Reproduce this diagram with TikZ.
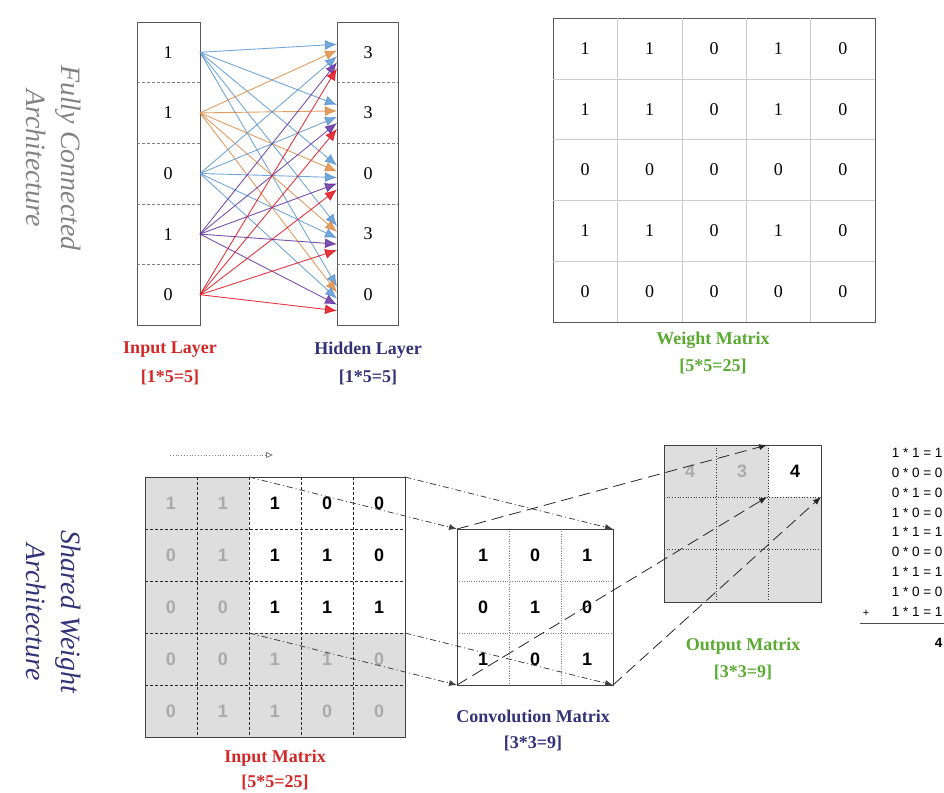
\documentclass[tikz,border=0pt]{standalone}
\usepackage{fontspec}
\setmainfont{Liberation Serif}
\setsansfont{Liberation Sans}
\usetikzlibrary{arrows.meta}
\definecolor{cblue}{RGB}{90,150,210}
\definecolor{corange}{RGB}{220,140,70}
\definecolor{cpurple}{RGB}{100,50,160}
\definecolor{cred}{RGB}{225,20,30}
\definecolor{lred}{RGB}{210,40,40}
\definecolor{lnavy}{RGB}{50,50,120}
\definecolor{lgreen}{RGB}{90,170,50}
\definecolor{lgray}{RGB}{130,130,130}
\definecolor{shadegray}{RGB}{222,222,222}
\definecolor{ltxt}{RGB}{170,170,170}
\tikzset{
 lbl/.style={font=\fontsize{18}{20}\selectfont\bfseries},
 side/.style={font=\fontsize{28}{30}\selectfont\itshape, rotate=-90},
 tnum/.style={font=\fontsize{18}{20}\selectfont},
 bnum/.style={font=\fontsize{18}{20}\selectfont\sffamily\bfseries},
 gnum/.style={font=\fontsize{18}{20}\selectfont\sffamily\bfseries, text=ltxt},
 calc/.style={font=\fontsize{13.5}{14}\selectfont\sffamily, anchor=east},
 dd/.style={dash pattern=on 6pt off 3pt on 1pt off 3pt, gray!50!black, line width=0.8pt, -{Latex[length=8pt,width=6pt]}},
 ld/.style={dash pattern=on 12pt off 6pt, gray!30!black, line width=0.8pt, -{Latex[length=8pt,width=6pt]}},
}
\begin{document}
\begin{tikzpicture}[x=1pt,y=-1pt]
\useasboundingbox (0,0) rectangle (944,792);
% side labels
\node[side,text=lgray] (s1) at (68,158) {Fully Connected};
\node[side,text=lgray] (s2) at (36,158) {Architecture};
\node[side,text=lnavy] (s3) at (68,612) {Shared Weight};
\node[side,text=lnavy] (s4) at (36,612) {Architecture};
% input/hidden columns
\draw[gray!70!black,line width=0.8pt] (137,22) rectangle (200,325);
\draw[gray!70!black,line width=0.8pt] (337,22) rectangle (398,325);
\foreach \k in {1,...,4}{
  \draw[densely dashed,gray] (137,{22+60.6*\k}) -- (200,{22+60.6*\k});
  \draw[densely dashed,gray] (337,{22+60.6*\k}) -- (398,{22+60.6*\k});
}
\foreach \v [count=\k from 0] in {1,1,0,1,0}{
  \node[tnum] (in\k) at (168,{52.3+60.6*\k}) {\v};
}
\foreach \v [count=\k from 0] in {3,3,0,3,0}{
  \node[tnum] (hd\k) at (368,{52.3+60.6*\k}) {\v};
}
\foreach \i/\c in {0/cblue,1/corange,2/cblue,3/cpurple,4/cred}{
  \coordinate (src\i) at (200,{52.3+60.6*\i});
  \foreach \j in {0,...,4}{
    \coordinate (dst\i\j) at (337,{52.3+60.6*\j-8+\i*6});
    \draw[\c,opacity=0.85,line width=0.9pt,-{Latex[length=12pt,width=10pt]}] (src\i) -- (dst\i\j);
  }
}
\node[lbl,text=lred] (l1) at (170,350) {Input Layer};
\node[lbl,text=lred] (l1b) at (170,377) {[1*5=5]};
\node[lbl,text=lnavy] (l2) at (368,350) {Hidden Layer};
\node[lbl,text=lnavy] (l2b) at (368,377) {[1*5=5]};
% weight matrix
\draw[gray!70!black,line width=0.8pt] (553,18) rectangle (875,322);
\foreach \k in {1,...,4}{
  \draw[gray!40] ({553+64.4*\k},18) -- ({553+64.4*\k},322);
  \draw[gray!40] (553,{18+60.8*\k}) -- (875,{18+60.8*\k});
}
\foreach \r [count=\y from 0] in {{1,1,0,1,0},{1,1,0,1,0},{0,0,0,0,0},{1,1,0,1,0},{0,0,0,0,0}}{
  \foreach \v [count=\x from 0] in \r {
    \node[tnum] (w\x\y) at ({585.2+64.4*\x},{48.4+60.8*\y}) {\v};
  }
}
\node[lbl,text=lgreen] (l3) at (713,340) {Weight Matrix};
\node[lbl,text=lgreen] (l3b) at (713,366) {[5*5=25]};
% bottom: dotted arrow
\coordinate (da) at (170,455); \coordinate (db) at (273,455);
\draw[gray,dotted,line width=0.8pt,-{Triangle[open,length=7pt,width=6pt]}] (da) -- (db);
% input matrix
\fill[shadegray] (145,477) rectangle (405,737);
\fill[white] (249,477) rectangle (405,633);
\foreach \k in {1,...,4}{
  \draw[densely dashed,gray!30!black] ({145+52*\k},477) -- ({145+52*\k},737);
  \draw[densely dashed,gray!30!black] (145,{477+52*\k}) -- (405,{477+52*\k});
}
\draw[gray!50!black,line width=0.8pt] (145,477) rectangle (405,737);
\foreach \r [count=\y from 0] in {{1,1,1,0,0},{0,1,1,1,0},{0,0,1,1,1},{0,0,1,1,0},{0,1,1,0,0}}{
  \foreach \v [count=\x from 0] in \r {
    \pgfmathsetmacro{\w}{(\x>1 && \y<3) ? 1 : 0}
    \ifdim\w pt>0.5pt
      \node[bnum] (m\x\y) at ({171+52*\x},{503+52*\y}) {\v};
    \else
      \node[gnum] (m\x\y) at ({171+52*\x},{503+52*\y}) {\v};
    \fi
  }
}
\node[lbl,text=lred] (l4) at (275,758) {Input Matrix};
\node[lbl,text=lred] (l4b) at (275,782) {[5*5=25]};
% conv matrix
\fill[white] (457,529) rectangle (613,685);
\foreach \k in {1,2}{
  \draw[dotted,gray] ({457+52*\k},529) -- ({457+52*\k},685);
  \draw[dotted,gray] (457,{529+52*\k}) -- (613,{529+52*\k});
}
\draw[gray!50!black,line width=0.8pt] (457,529) rectangle (613,685);
\foreach \r [count=\y from 0] in {{1,0,1},{0,1,0},{1,0,1}}{
  \foreach \v [count=\x from 0] in \r {
    \node[bnum] (c\x\y) at ({483+52*\x},{555+52*\y}) {\v};
  }
}
\node[lbl,text=lnavy] (l5) at (533,716) {Convolution Matrix};
\node[lbl,text=lnavy] (l5b) at (533,743) {[3*3=9]};
% output matrix
\fill[shadegray] (664,445) rectangle (821,602);
\fill[white] (769,445) rectangle (821,497);
\foreach \k in {1,2}{
  \draw[dotted,gray!40!black,line width=0.7pt] ({664+52.3*\k},445) -- ({664+52.3*\k},602);
  \draw[dotted,gray!40!black,line width=0.7pt] (664,{445+52.3*\k}) -- (821,{445+52.3*\k});
}
\draw[gray!50!black,line width=0.8pt] (664,445) rectangle (821,602);
\node[gnum] (o0) at (690,471) {4};
\node[gnum] (o1) at (742,471) {3};
\node[bnum] (o2) at (795,471) {4};
\node[lbl,text=lgreen] (l6) at (743,646) {Output Matrix};
\node[lbl,text=lgreen] (l6b) at (743,672) {[3*3=9]};
% projection lines
\coordinate (ia) at (249,477); \coordinate (ib) at (405,477);
\coordinate (ic) at (249,633); \coordinate (id) at (405,633);
\coordinate (ca) at (457,529); \coordinate (cb) at (613,529);
\coordinate (cc) at (457,685); \coordinate (cd) at (613,685);
\coordinate (oa) at (767,445); \coordinate (ob) at (767,497); \coordinate (oc) at (821,497);
\draw[dd] (ia) -- (ca);
\draw[dd] (ib) -- (cb);
\draw[dd] (ic) -- (cc);
\draw[dd] (id) -- (cd);
\draw[ld] (ca) -- (oa);
\draw[ld] (cc) -- (ob);
\draw[ld] (cd) -- (oc);
% calculation
\foreach \t [count=\k from 0] in {1 * 1 = 1,0 * 0 = 0,0 * 1 = 0,1 * 0 = 0,1 * 1 = 1,0 * 0 = 0,1 * 1 = 1,1 * 0 = 0,1 * 1 = 1}{
  \node[calc] (e\k) at (946,{453+19.8*\k}) {\t};
}
\node[font=\fontsize{11}{12}\selectfont\sffamily] (plus) at (866,613) {+};
\coordinate (ra) at (860,623); \coordinate (rb) at (944,623);
\draw[gray!60!black] (ra) -- (rb);
\node[calc,font=\fontsize{13.5}{14}\selectfont\sffamily\bfseries] (res) at (946,643) {4};
\end{tikzpicture}
\end{document}
